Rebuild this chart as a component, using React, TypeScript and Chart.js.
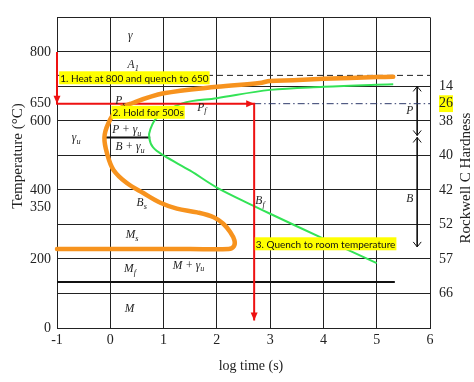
import React, { useEffect, useRef } from "react";
import { Chart, registerables } from "chart.js";
Chart.register(...registerables);

// ---------------- data ----------------
const xTickValues = [-1, 0, 1, 2, 3, 4, 5, 6];
const tempGridValues = [0, 100, 200, 300, 350, 400, 500, 600, 650, 700, 800, 900];
const tempLabelValues = [0, 200, 350, 400, 600, 650, 800];
const hardnessTemps = [100, 200, 300, 400, 500, 600, 650, 700];
const hardnessLabels = ["66", "57", "52", "42", "40", "38", "26", "14"];
const highlightedHardnessTemp = 650;

// transformation start curve (P_s / B_s), orange
const startLogT = [5.31, 5.0, 4.0, 3.43, 3.0, 2.8, 2.0, 1.0, 0.42, 0.12, -0.04, -0.11, -0.06, 0.06, 0.31, 0.62, 0.94, 1.25, 1.63, 1.94, 2.12, 2.25, 2.33, 2.32, 2.22, 1.5, -1];
const startTemp = [728, 727, 722, 718, 716, 710, 699, 680, 652, 630, 592, 552, 505, 458, 420, 391, 363, 346, 335, 321, 302, 278, 254, 237, 229, 229, 229];

// transformation finish curve (P_f / B_f), green
const finishLogT = [5.31, 5.0, 4.0, 3.0, 2.0, 1.35, 0.875, 0.75, 0.73, 0.8, 1.0, 1.5, 2.0, 2.69, 3.0, 4.0, 5.0];
const finishTemp = [706, 705, 699, 690, 666, 651, 609, 575, 552, 524, 500, 456, 407, 354, 331, 259, 188];

// P/B boundary, M_f line, A1 line, hold reference line
const pbLineLogT = [-0.09, 0.75];
const pbLineTemp = [552, 552];
const mfLineLogT = [-1, 5.34];
const mfLineTemp = [133, 133];
const a1LineLogT = [-1, 6];
const a1LineTemp = [732, 732];
const holdRefLogT = [2.7, 6];
const holdRefTemp = [650, 650];

// heat treatment path (red)
const processLogT = [-1, -1, 2.7, 2.7];
const processTemp = [800, 650, 650, 22];

// hardness range arrows
const rangeLogT = 5.76;
const pRangeTemp = [700, 558];
const bRangeTemp = [552, 235];

// region labels: [main, subscript, logT, temp]
const regionLabels: [string, string, number, number][] = [
  ["γ", "", 0.375, 846],
  ["A", "1", 0.43, 761],
  ["P", "s", 0.19, 657],
  ["P", "f", 1.72, 638],
  ["γ", "u", -0.64, 550],
  ["P + γ", "u", 0.31, 573],
  ["B + γ", "u", 0.37, 524],
  ["B", "s", 0.59, 361],
  ["M", "s", 0.41, 269],
  ["M", "f", 0.37, 170],
  ["M + γ", "u", 1.47, 181],
  ["M", "", 0.36, 56],
  ["B", "f", 2.81, 368],
  ["P", "", 5.62, 628],
  ["B", "", 5.62, 373],
];

// step notes: [text, left logT, center temp]
const stepNotes: [string, number, number][] = [
  ["1. Heat at 800 and quench to 650", -0.94, 725],
  ["2. Hold for 500s", 0.04, 625],
  ["3. Quench to room temperature", 2.73, 244],
];

const xTitle = "log time (s)";
const yTitle = "Temperature (°C)";
const y2Title = "Rockwell C Hardness";

const pts = (xs: number[], ys: number[]) => xs.map((x, i) => ({ x, y: ys[i] }));

const SERIF = '"Liberation Serif", "Times New Roman", serif';
const SANS = 'Lato, "Open Sans", sans-serif';

const annotationPlugin = {
  id: "ttt-annotations",
  afterDatasetsDraw(chart: any) {
    const ctx: CanvasRenderingContext2D = chart.ctx;
    const xs = chart.scales.x;
    const ys = chart.scales.y;
    const px = (v: number) => xs.getPixelForValue(v);
    const py = (v: number) => ys.getPixelForValue(v);
    ctx.save();

    // red filled arrowheads along the process path
    const head = (x0: number, y0: number, x1: number, y1: number, color: string) => {
      const a = Math.atan2(y1 - y0, x1 - x0);
      const L = 8, W = 3.5;
      ctx.fillStyle = color;
      ctx.beginPath();
      ctx.moveTo(x1, y1);
      ctx.lineTo(x1 - L * Math.cos(a) + W * Math.sin(a), y1 - L * Math.sin(a) - W * Math.cos(a));
      ctx.lineTo(x1 - L * Math.cos(a) - W * Math.sin(a), y1 - L * Math.sin(a) + W * Math.cos(a));
      ctx.closePath();
      ctx.fill();
    };
    for (let i = 1; i < processLogT.length; i++) {
      head(px(processLogT[i - 1]), py(processTemp[i - 1]), px(processLogT[i]), py(processTemp[i]), "#EE1111");
    }

    // open chevrons on range arrows
    const chevron = (x: number, y: number, dir: number) => {
      ctx.strokeStyle = "#111";
      ctx.lineWidth = 1;
      ctx.beginPath();
      ctx.moveTo(x - 4, y - dir * 5);
      ctx.lineTo(x, y);
      ctx.lineTo(x + 4, y - dir * 5);
      ctx.stroke();
    };
    const rx = px(rangeLogT);
    chevron(rx, py(pRangeTemp[0]), -1);
    chevron(rx, py(pRangeTemp[1]), 1);
    chevron(rx, py(bRangeTemp[0]), -1);
    chevron(rx, py(bRangeTemp[1]), 1);

    // region labels (italic, with subscripts)
    ctx.fillStyle = "#222";
    ctx.textBaseline = "middle";
    ctx.textAlign = "left";
    const size = 11.5;
    for (const [main, sub, lx, lt] of regionLabels) {
      const mainFont = `italic ${size}px ${SERIF}`;
      const subFont = `italic ${size * 0.72}px ${SERIF}`;
      ctx.font = mainFont;
      const w = ctx.measureText(main).width;
      ctx.font = subFont;
      const sw = sub ? ctx.measureText(sub).width : 0;
      const x0 = px(lx) - (w + sw) / 2;
      const y0 = py(lt);
      ctx.font = mainFont;
      ctx.fillText(main, x0, y0);
      if (sub) {
        ctx.font = subFont;
        ctx.fillText(sub, x0 + w, y0 + size * 0.3);
      }
    }

    // yellow step notes
    ctx.font = `10px ${SANS}`;
    for (const [text, lx, lt] of stepNotes) {
      const x0 = px(lx);
      const y0 = py(lt);
      const w = ctx.measureText(text).width;
      ctx.fillStyle = "#FFFF00";
      ctx.fillRect(x0 - 1, y0 - 6.5, w + 2, 13);
      ctx.fillStyle = "#111";
      ctx.fillText(text, x0, y0 + 0.5);
    }

    // axis titles
    ctx.fillStyle = "#222";
    ctx.textAlign = "center";
    ctx.font = `15px ${SERIF}`;
    ctx.save();
    ctx.translate(18, 156);
    ctx.rotate(-Math.PI / 2);
    ctx.fillText(yTitle, 0, 0);
    ctx.restore();
    ctx.save();
    ctx.translate(466, 178);
    ctx.rotate(-Math.PI / 2);
    ctx.fillText(y2Title, 0, 0);
    ctx.restore();
    ctx.font = `14px ${SERIF}`;
    ctx.fillText(xTitle, 251, 366);

    ctx.restore();
  },
};

export default function App() {
  const ref = useRef<HTMLCanvasElement | null>(null);
  useEffect(() => {
    if (!ref.current) return;
    const tickFont = { family: SERIF, size: 14 };
    const line = (data: any[], color: string, width: number, extra: any = {}) => ({
      data,
      borderColor: color,
      backgroundColor: color,
      borderWidth: width,
      pointRadius: 0,
      fill: false,
      tension: 0,
      clip: false,
      ...extra,
    });
    const chart = new Chart(ref.current, {
      type: "line",
      data: {
        datasets: [
          line(pts(startLogT, startTemp), "#F7931E", 4.5, { tension: 0.35, borderCapStyle: "round", borderJoinStyle: "round" }),
          line(pts(processLogT, processTemp), "#EE1111", 2),
          line(pts(finishLogT, finishTemp), "#33E356", 2, { tension: 0.35 }),
          line(pts(pbLineLogT, pbLineTemp), "#111", 2),
          line(pts(mfLineLogT, mfLineTemp), "#111", 2),
          line(pts(a1LineLogT, a1LineTemp), "#222", 1, { borderDash: [6, 4] }),
          line(pts(holdRefLogT, holdRefTemp), "#2F3A6B", 1, { borderDash: [7, 3, 1.5, 3] }),
          line(pts([rangeLogT, rangeLogT], pRangeTemp), "#111", 1),
          line(pts([rangeLogT, rangeLogT], bRangeTemp), "#111", 1),
        ] as any,
      },
      options: {
        animation: false,
        responsive: false,
        maintainAspectRatio: false,
        layout: { padding: { top: 11, left: 0, right: 0, bottom: 0 } },
        plugins: { legend: { display: false }, tooltip: { enabled: false } },
        elements: { point: { radius: 0 } },
        scales: {
          x: {
            type: "linear",
            min: -1,
            max: 6,
            afterBuildTicks: (s: any) => {
              s.ticks = xTickValues.map((v) => ({ value: v }));
            },
            ticks: { font: tickFont, color: "#222", padding: 4, callback: (v: any) => String(v) },
            grid: { color: "#222", lineWidth: 1, drawTicks: false },
            border: { display: true, color: "#222" },
            afterFit: (s: any) => {
              s.height = 54;
            },
          },
          y: {
            type: "linear",
            position: "left",
            min: 0,
            max: 900,
            afterBuildTicks: (s: any) => {
              s.ticks = tempGridValues.map((v) => ({ value: v }));
            },
            ticks: {
              font: tickFont,
              color: "#222",
              padding: 6,
              autoSkip: false,
              callback: (v: any) => (tempLabelValues.includes(v) ? String(v) : ""),
            },
            grid: {
              color: (c: any) => (c.tick && c.tick.value % 100 === 0 ? "#222" : "rgba(0,0,0,0)"),
              lineWidth: 1,
              drawTicks: false,
            },
            border: { display: true, color: "#222" },
            afterFit: (s: any) => {
              s.width = 57;
            },
          },
          y2: {
            type: "linear",
            position: "right",
            min: 0,
            max: 900,
            afterBuildTicks: (s: any) => {
              s.ticks = hardnessTemps.map((v) => ({ value: v }));
            },
            ticks: {
              font: tickFont,
              color: "#222",
              padding: 9,
              autoSkip: false,
              showLabelBackdrop: true,
              backdropPadding: { top: 0, bottom: 0, left: 0, right: 0 },
              backdropColor: (c: any) => (c.tick && c.tick.value === highlightedHardnessTemp ? "#FFFF00" : "rgba(0,0,0,0)"),
              callback: (v: any) => {
                const i = hardnessTemps.indexOf(v);
                return i >= 0 ? hardnessLabels[i] : "";
              },
            },
            grid: { display: false, drawTicks: false },
            border: { display: false },
            afterFit: (s: any) => {
              s.width = 44;
            },
          },
        },
      } as any,
      plugins: [annotationPlugin],
    });
    return () => chart.destroy();
  }, []);
  return (
    <div style={{ position: "absolute", left: 0, top: 0, width: 474, height: 382, background: "#fff" }}>
      <canvas ref={ref} width={474} height={382} />
    </div>
  );
}
